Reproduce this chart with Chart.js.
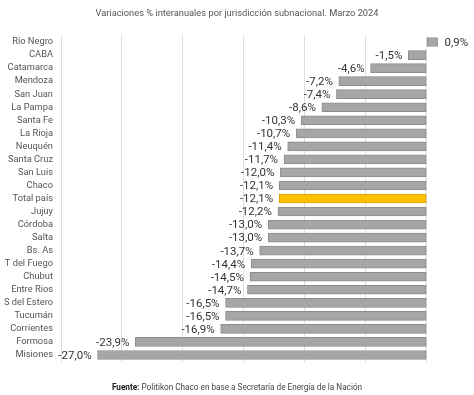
<!DOCTYPE html>
<html>
<head>
<meta charset="utf-8">
<script src="https://cdn.jsdelivr.net/npm/chart.js@4"></script>
<style>
  html, body { margin: 0; padding: 0; background: #fff; }
  #wrap { position: relative; width: 474px; height: 395px; overflow: hidden; }
  #chart { position: absolute; left: 0; top: 0; }
  .txt { position: absolute; left: 0; width: 474px; text-align: center; font-family: Roboto, sans-serif; color: #555; white-space: nowrap; }
  #title { top: 7px; font-size: 9.3px; }
  #footer { top: 382px; font-size: 8.2px; color: #444; }
  #footer b { color: #222; }
</style>
</head>
<body>
<div id="wrap">
  <canvas id="chart" width="474" height="395"></canvas>
  <div id="title" class="txt">Variaciones % interanuales por jurisdicción subnacional. Marzo 2024</div>
  <div id="footer" class="txt"><b>Fuente:</b> Politikon Chaco en base a Secretaría de Energía de la Nación</div>
</div>
<script>
// Data
const provinces = ['Río Negro', 'CABA', 'Catamarca', 'Mendoza', 'San Juan', 'La Pampa', 'Santa Fe', 'La Rioja',
  'Neuquén', 'Santa Cruz', 'San Luis', 'Chaco', 'Total país', 'Jujuy', 'Córdoba', 'Salta', 'Bs. As',
  'T del Fuego', 'Chubut', 'Entre Rios', 'S del Estero', 'Tucumán', 'Corrientes', 'Formosa', 'Misiones'];
const variation = [0.9, -1.5, -4.6, -7.2, -7.4, -8.6, -10.3, -10.7, -11.4, -11.7, -12.0, -12.1, -12.1, -12.2,
  -13.0, -13.0, -13.7, -14.4, -14.5, -14.7, -16.5, -16.5, -16.9, -23.9, -27.0];
const highlight = 'Total país';

const fmt = v => v.toFixed(1).replace('.', ',') + '%';

// value labels next to bar ends
const valueLabels = {
  id: 'valueLabels',
  afterDatasetsDraw(chart) {
    const ctx = chart.ctx;
    const meta = chart.getDatasetMeta(0);
    ctx.save();
    ctx.font = '11.5px Roboto, sans-serif';
    ctx.fillStyle = '#333';
    ctx.textBaseline = 'middle';
    meta.data.forEach((bar, i) => {
      const v = variation[i];
      if (v < 0) {
        ctx.textAlign = 'right';
        ctx.fillText(fmt(v), bar.x - 6, bar.y + 1);
      } else {
        ctx.textAlign = 'left';
        ctx.fillText(fmt(v), bar.x + 7, bar.y + 1);
      }
    });
    ctx.restore();
  }
};

new Chart(document.getElementById('chart'), {
  type: 'bar',
  data: {
    labels: provinces,
    datasets: [{
      data: variation,
      backgroundColor: provinces.map(p => p === highlight ? '#ffc000' : '#a6a6a6'),
      borderColor: provinces.map(p => p === highlight ? '#d9a400' : '#8c8c8c'),
      borderWidth: 1,
      borderSkipped: false,
      barThickness: 9
    }]
  },
  options: {
    indexAxis: 'y',
    responsive: false,
    animation: false,
    layout: { padding: { top: 35.5, bottom: 33.5, right: 23, left: 0 } },
    plugins: { legend: { display: false }, tooltip: { enabled: false } },
    scales: {
      x: {
        min: -30,
        max: 2,
        ticks: { display: false, stepSize: 5, includeBounds: false },
        grid: { color: '#dedede', lineWidth: 1, drawTicks: false },
        border: { display: false },
        afterFit: s => { s.height = 0; }
      },
      y: {
        ticks: { color: '#555', font: { family: 'Roboto, sans-serif', size: 9.3 }, padding: 8, autoSkip: false },
        grid: { display: false, drawTicks: false },
        border: { display: false },
        afterFit: s => { s.width = 61; }
      }
    }
  },
  plugins: [valueLabels]
});
</script>
</body>
</html>
